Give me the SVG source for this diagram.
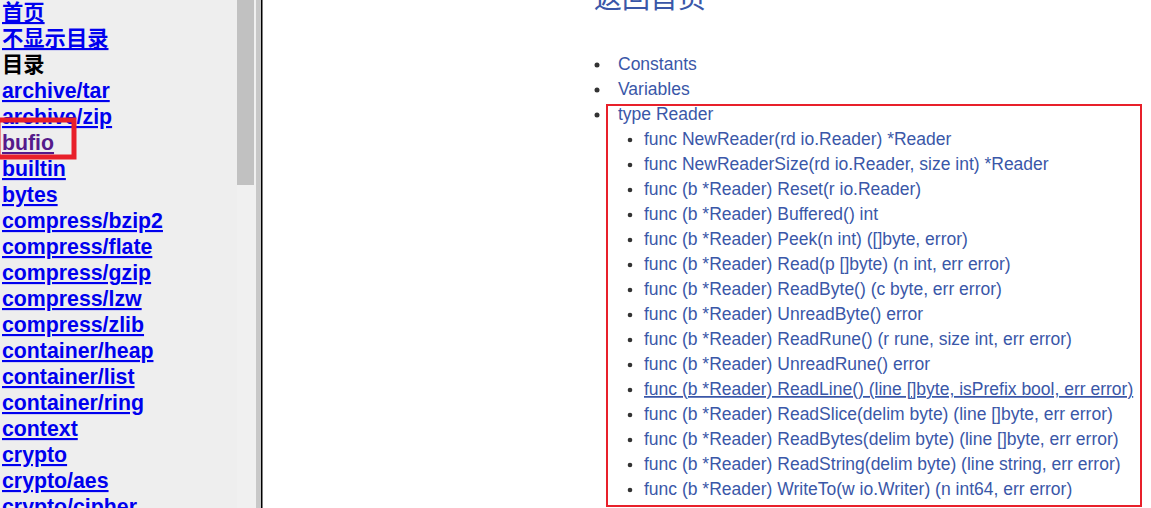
<svg xmlns="http://www.w3.org/2000/svg" width="1151" height="508" viewBox="0 0 1151 508">
<style>
.s{font-family:"Liberation Sans","Noto Sans CJK SC",sans-serif;font-size:21.3px;font-weight:bold;fill:#0000ee;text-decoration:underline}
.r{font-family:"Liberation Sans",Arial,sans-serif;font-size:17.5px;fill:#3a57a8}
.b{fill:#333}
</style>
<rect width="1151" height="508" fill="#fff"/>
<g id="sidebar">
<rect x="0" y="0" width="256" height="508" fill="#eeeeee"/>
<rect x="237" y="0" width="19" height="508" fill="#f0f0f0"/>
<rect x="237" y="0" width="17" height="185" fill="#c1c1c1"/>
<rect x="256" y="0" width="5" height="508" fill="#c8c8c8"/>
<rect x="261" y="0" width="1.5" height="508" fill="#000"/>
<text class="s" x="2" y="20">首页</text>
<text class="s" x="2" y="46">不显示目录</text>
<text class="s" x="2" y="72" style="fill:#000;text-decoration:none">目录</text>
<text class="s" x="2" y="98">archive/tar</text>
<text class="s" x="2" y="124">archive/zip</text>
<text class="s" x="2" y="150" style="fill:#551a8b">bufio</text>
<text class="s" x="2" y="176">builtin</text>
<text class="s" x="2" y="202">bytes</text>
<text class="s" x="2" y="228">compress/bzip2</text>
<text class="s" x="2" y="254">compress/flate</text>
<text class="s" x="2" y="280">compress/gzip</text>
<text class="s" x="2" y="306">compress/lzw</text>
<text class="s" x="2" y="332">compress/zlib</text>
<text class="s" x="2" y="358">container/heap</text>
<text class="s" x="2" y="384">container/list</text>
<text class="s" x="2" y="410">container/ring</text>
<text class="s" x="2" y="436">context</text>
<text class="s" x="2" y="462">crypto</text>
<text class="s" x="2" y="488">crypto/aes</text>
<text class="s" x="2" y="514">crypto/cipher</text>
<rect x="-2" y="120" width="76" height="37" fill="none" stroke="#e8202a" stroke-width="5"/>
</g>
<g id="content">
<text x="594" y="8" style="font-family:'Noto Sans CJK SC',sans-serif;font-size:28px;fill:#3a57a8">返回首页</text>
<circle class="b" cx="597" cy="65" r="2.5"/><text class="r" x="618" y="70">Constants</text>
<circle class="b" cx="597" cy="90" r="2.5"/><text class="r" x="618" y="95">Variables</text>
<circle class="b" cx="597" cy="115" r="2.5"/><text class="r" x="618" y="120">type Reader</text>
<g class="r">
<text x="644" y="145">func NewReader(rd io.Reader) *Reader</text>
<text x="644" y="170">func NewReaderSize(rd io.Reader, size int) *Reader</text>
<text x="644" y="195">func (b *Reader) Reset(r io.Reader)</text>
<text x="644" y="220">func (b *Reader) Buffered() int</text>
<text x="644" y="245">func (b *Reader) Peek(n int) ([]byte, error)</text>
<text x="644" y="270">func (b *Reader) Read(p []byte) (n int, err error)</text>
<text x="644" y="295">func (b *Reader) ReadByte() (c byte, err error)</text>
<text x="644" y="320">func (b *Reader) UnreadByte() error</text>
<text x="644" y="345">func (b *Reader) ReadRune() (r rune, size int, err error)</text>
<text x="644" y="370">func (b *Reader) UnreadRune() error</text>
<text x="644" y="395" style="text-decoration:underline">func (b *Reader) ReadLine() (line []byte, isPrefix bool, err error)</text>
<text x="644" y="420">func (b *Reader) ReadSlice(delim byte) (line []byte, err error)</text>
<text x="644" y="445">func (b *Reader) ReadBytes(delim byte) (line []byte, err error)</text>
<text x="644" y="470">func (b *Reader) ReadString(delim byte) (line string, err error)</text>
<text x="644" y="495">func (b *Reader) WriteTo(w io.Writer) (n int64, err error)</text>
</g>
<g class="b">
<circle cx="630" cy="140" r="2.3"/><circle cx="630" cy="165" r="2.3"/><circle cx="630" cy="190" r="2.3"/>
<circle cx="630" cy="215" r="2.3"/><circle cx="630" cy="240" r="2.3"/><circle cx="630" cy="265" r="2.3"/>
<circle cx="630" cy="290" r="2.3"/><circle cx="630" cy="315" r="2.3"/><circle cx="630" cy="340" r="2.3"/>
<circle cx="630" cy="365" r="2.3"/><circle cx="630" cy="390" r="2.3"/><circle cx="630" cy="415" r="2.3"/>
<circle cx="630" cy="440" r="2.3"/><circle cx="630" cy="465" r="2.3"/><circle cx="630" cy="490" r="2.3"/>
</g>
<rect x="607" y="105" width="534" height="401" fill="none" stroke="#e8202a" stroke-width="2"/>
</g>
</svg>
